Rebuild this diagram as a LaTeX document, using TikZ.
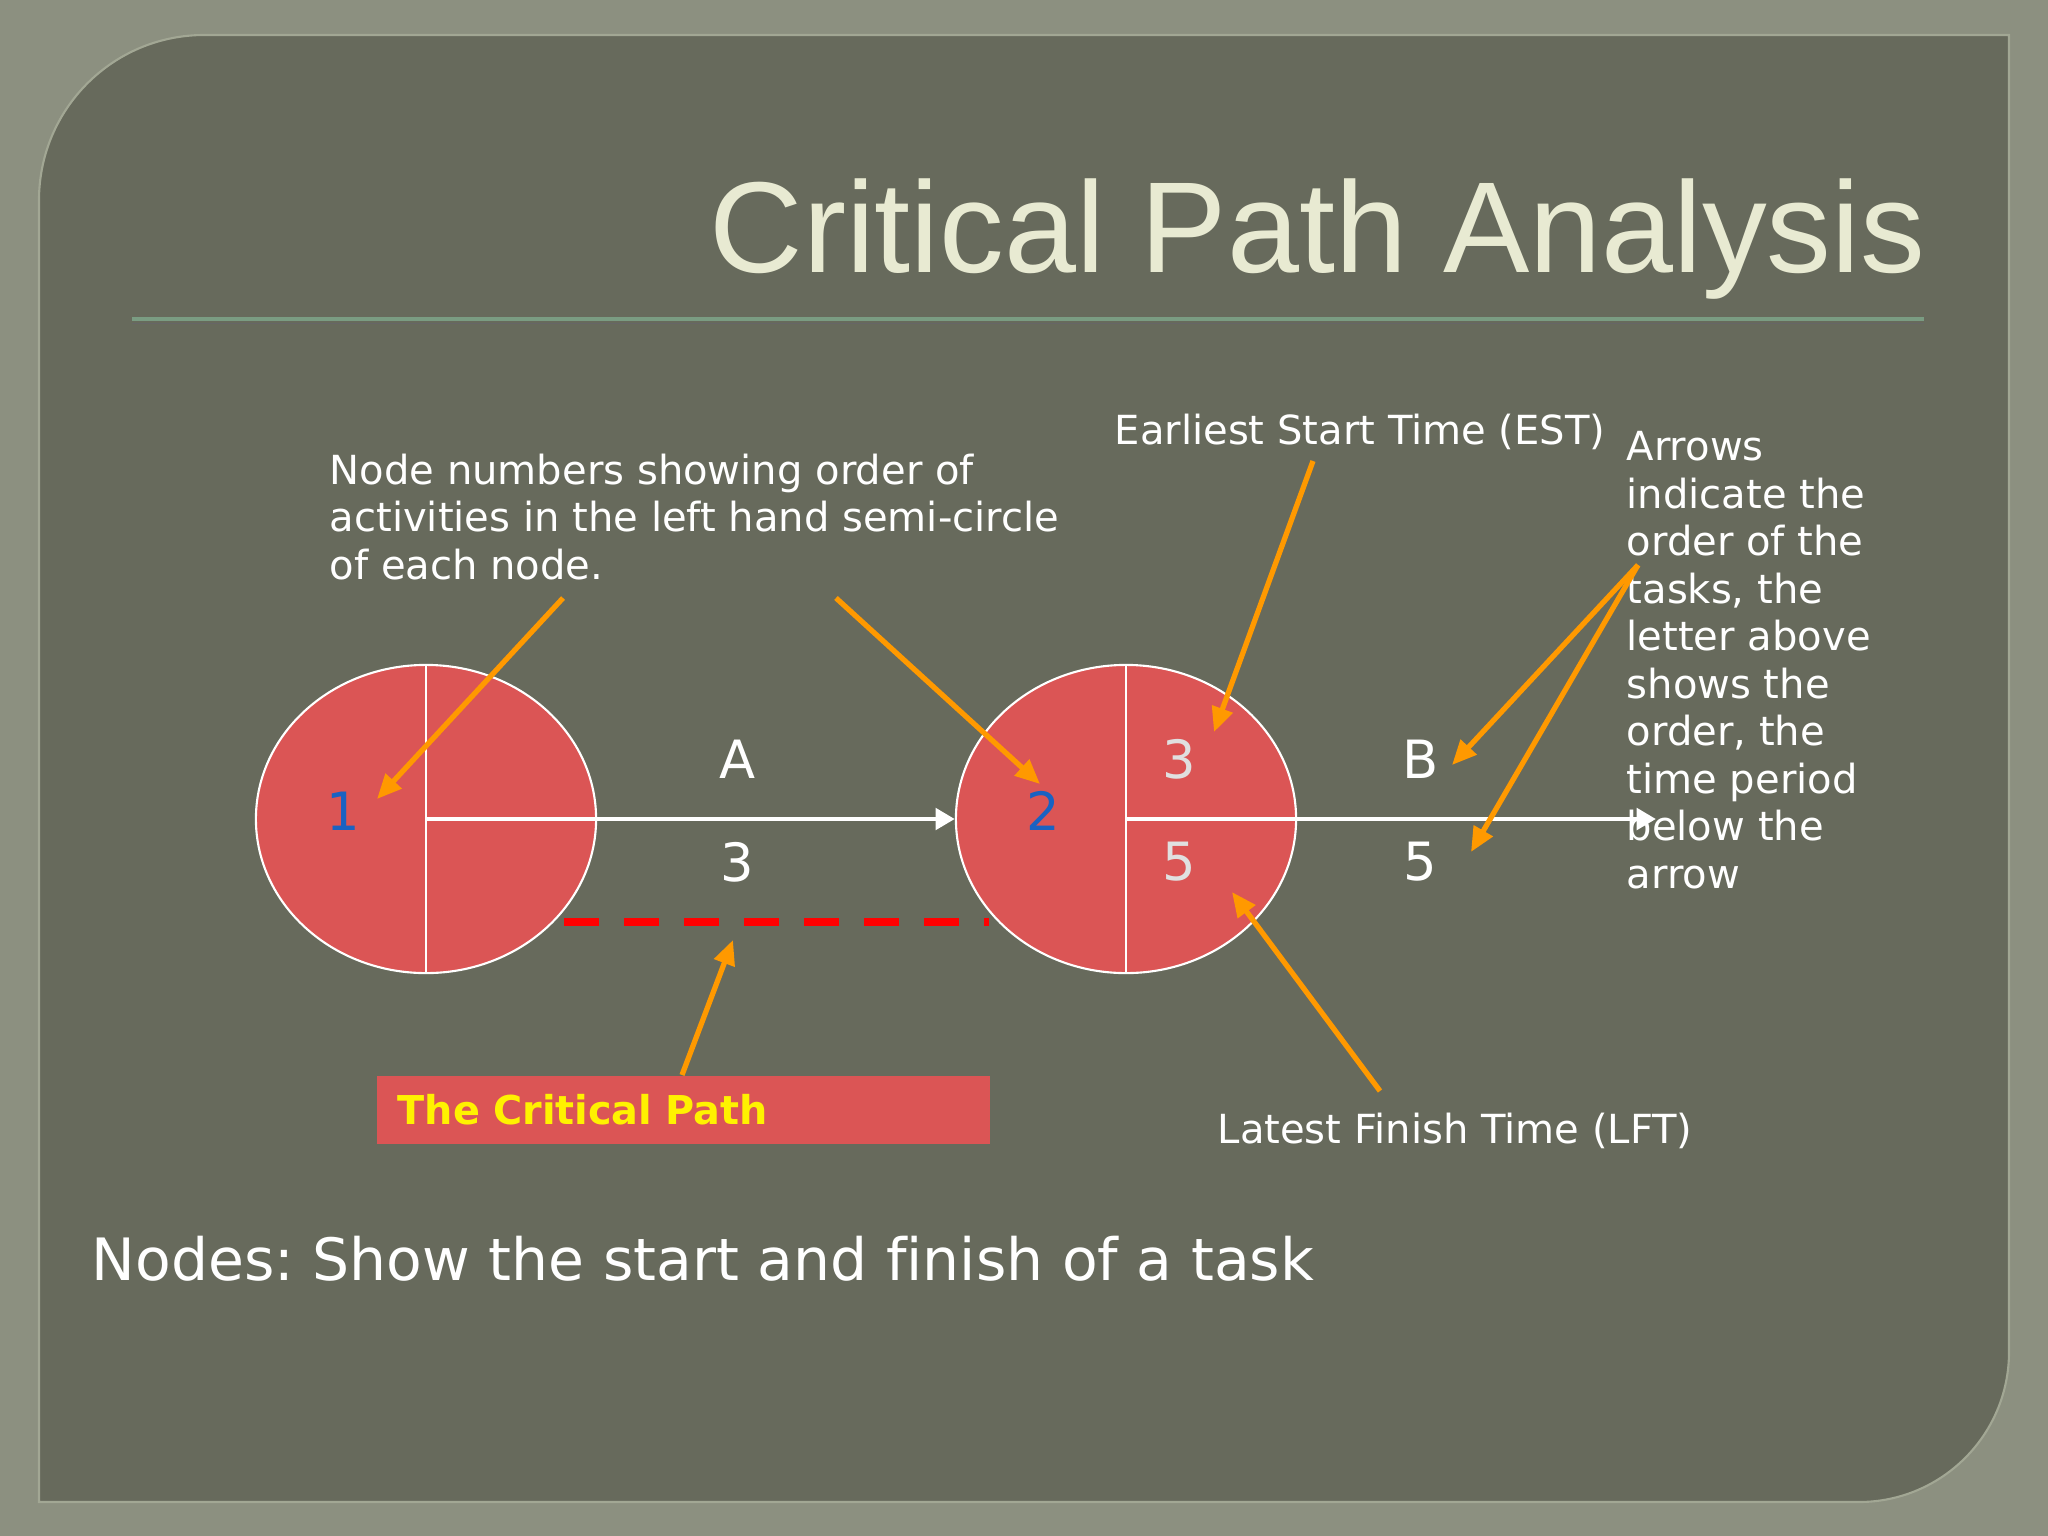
\documentclass[tikz,border=0pt]{standalone}
\usepackage{fontspec}
\setmainfont[Ligatures=NoCommon]{DejaVu Sans}
\newfontfamily\titlefont{Liberation Sans}
\usetikzlibrary{arrows.meta,shapes.geometric}
\definecolor{slidebg}{HTML}{8C9080}
\definecolor{panel}{HTML}{676A5C}
\definecolor{panelrim}{HTML}{A2A794}
\definecolor{nodered}{HTML}{DB5555}
\definecolor{ptrorange}{HTML}{FF9900}
\definecolor{numblue}{HTML}{1A62C2}
\definecolor{titlecream}{HTML}{E8EAD2}
\definecolor{rulegreen}{HTML}{7A9C82}
\frenchspacing

\begin{document}
\begin{tikzpicture}[x=0.01cm, y=-0.01cm,
  event/.style={ellipse, draw=white, line width=0.6pt, fill=nodered,
    minimum width=3.4cm, minimum height=3.08cm, inner sep=0pt},
  note/.style={text=white, font=\fontsize{11.4}{13.5}\selectfont, inner sep=0pt},
  val/.style={text=white, font=\fontsize{15}{18}\selectfont, inner sep=0pt},
  pointer/.style={draw=ptrorange, line width=1.5pt, -{Triangle[length=7pt,width=6pt]}},
  flow/.style={draw=white, line width=1.4pt, -{Triangle[length=5.5pt,width=6pt]}}]

  % Background and panel
  \fill[slidebg] (0,0) rectangle (2048,1536);
  \useasboundingbox (0,0) rectangle (2048,1536);
  \filldraw[fill=panel, draw=panelrim, line width=0.6pt]
    (1000,35) [rounded corners=1.65cm] -- (39,35) -- (39,700)
    [sharp corners] -- (39,1502) -- (1000,1502)
    [rounded corners=1.5cm] -- (2009,1502) -- (2009,700)
    [sharp corners] -- (2009,35) -- cycle;

  % Title and rule
  \node[anchor=base west, text=titlecream, inner sep=0pt,
    font=\titlefont\fontsize{36.8}{40}\selectfont] (title) at (709,272) {Critical Path Analysis};
  \draw[rulegreen, line width=1.2pt] (132,319) -- (1924,319);
  \draw[black!60, line width=0.5pt] (132,323.5) -- (1924,323.5);

  % Event nodes
  \node[event] (e1) at (426,819) {};
  \node[event] (e2) at (1126,819) {};
  \draw[white, line width=0.6pt] (e1.north) -- (e1.south);
  \draw[white, line width=0.6pt] (e2.north) -- (e2.south);

  % Activity arrows
  \coordinate (bEnd) at (1656,819);
  \draw[flow] (e1.center) -- (e2.west);
  \draw[flow] (e2.center) -- (bEnd);

  % Numbers in and on the network
  \node[val, text=numblue] (n1) at (343,811) {1};
  \node[val, text=numblue] (n2) at (1043,811) {2};
  \node[val, text=black!12] (est) at (1179,759) {3};
  \node[val, text=black!12] (lft) at (1179,862) {5};
  \node[val] (actA) at (738,759) {A};
  \node[val] (durA) at (737,862) {3};
  \node[val] (actB) at (1421,759) {B};
  \node[val] (durB) at (1420,862) {5};

  % Critical path
  \coordinate (cpL) at (564,922);
  \coordinate (cpR) at (989,922);
  \draw[red, line width=2.5pt, dash pattern=on 0.35cm off 0.25cm] (cpL) -- (cpR);
  \node[fill=nodered, anchor=north west, minimum width=6.13cm, minimum height=0.68cm,
    inner xsep=0.21cm, inner ysep=0pt, text width=5.71cm, align=left, text=yellow,
    font=\bfseries\fontsize{11.3}{14}\selectfont] (cpbox) at (376,1075) {The Critical Path};

  % Notes
  \node[note, anchor=north west, align=left] (numnote) at (329,453)
    {Node numbers showing order of\\activities in the left hand semi-circle\\of each node.};
  \node[note, anchor=base west] (estnote) at (1114,444) {Earliest Start Time (EST)};
  \node[note, anchor=north west, align=left] (arrnote) at (1626,431)
    {Arrows\\indicate the\\order of the\\tasks, the\\letter above\\shows the\\order, the\\time period\\below the\\arrow};
  \node[note, anchor=base west] (lftnote) at (1217,1143) {Latest Finish Time (LFT)};
  \node[text=white, inner sep=0pt, anchor=base west, font=\fontsize{16.6}{20}\selectfont]
    (caption) at (91,1280) {Nodes: Show the start and finish of a task};

  % Pointers
  \coordinate (p1) at (563,598);  \coordinate (t1) at (377,799);
  \coordinate (p2) at (836,598);  \coordinate (t2) at (1040,784);
  \coordinate (p3) at (1313,461); \coordinate (t3) at (1214,732);
  \coordinate (p4) at (1638,565); \coordinate (t4) at (1452,765);
  \coordinate (t5) at (1471,852);
  \coordinate (p6) at (1380,1091); \coordinate (t6) at (1232,892);
  \coordinate (p7) at (682,1075);  \coordinate (t7) at (733,940);
  \draw[pointer] (p1) -- (t1);
  \draw[pointer] (p2) -- (t2);
  \draw[pointer] (p3) -- (t3);
  \draw[pointer] (p4) -- (t4);
  \draw[pointer] (p4) -- (t5);
  \draw[pointer] (p6) -- (t6);
  \draw[pointer] (p7) -- (t7);
\end{tikzpicture}
\end{document}
